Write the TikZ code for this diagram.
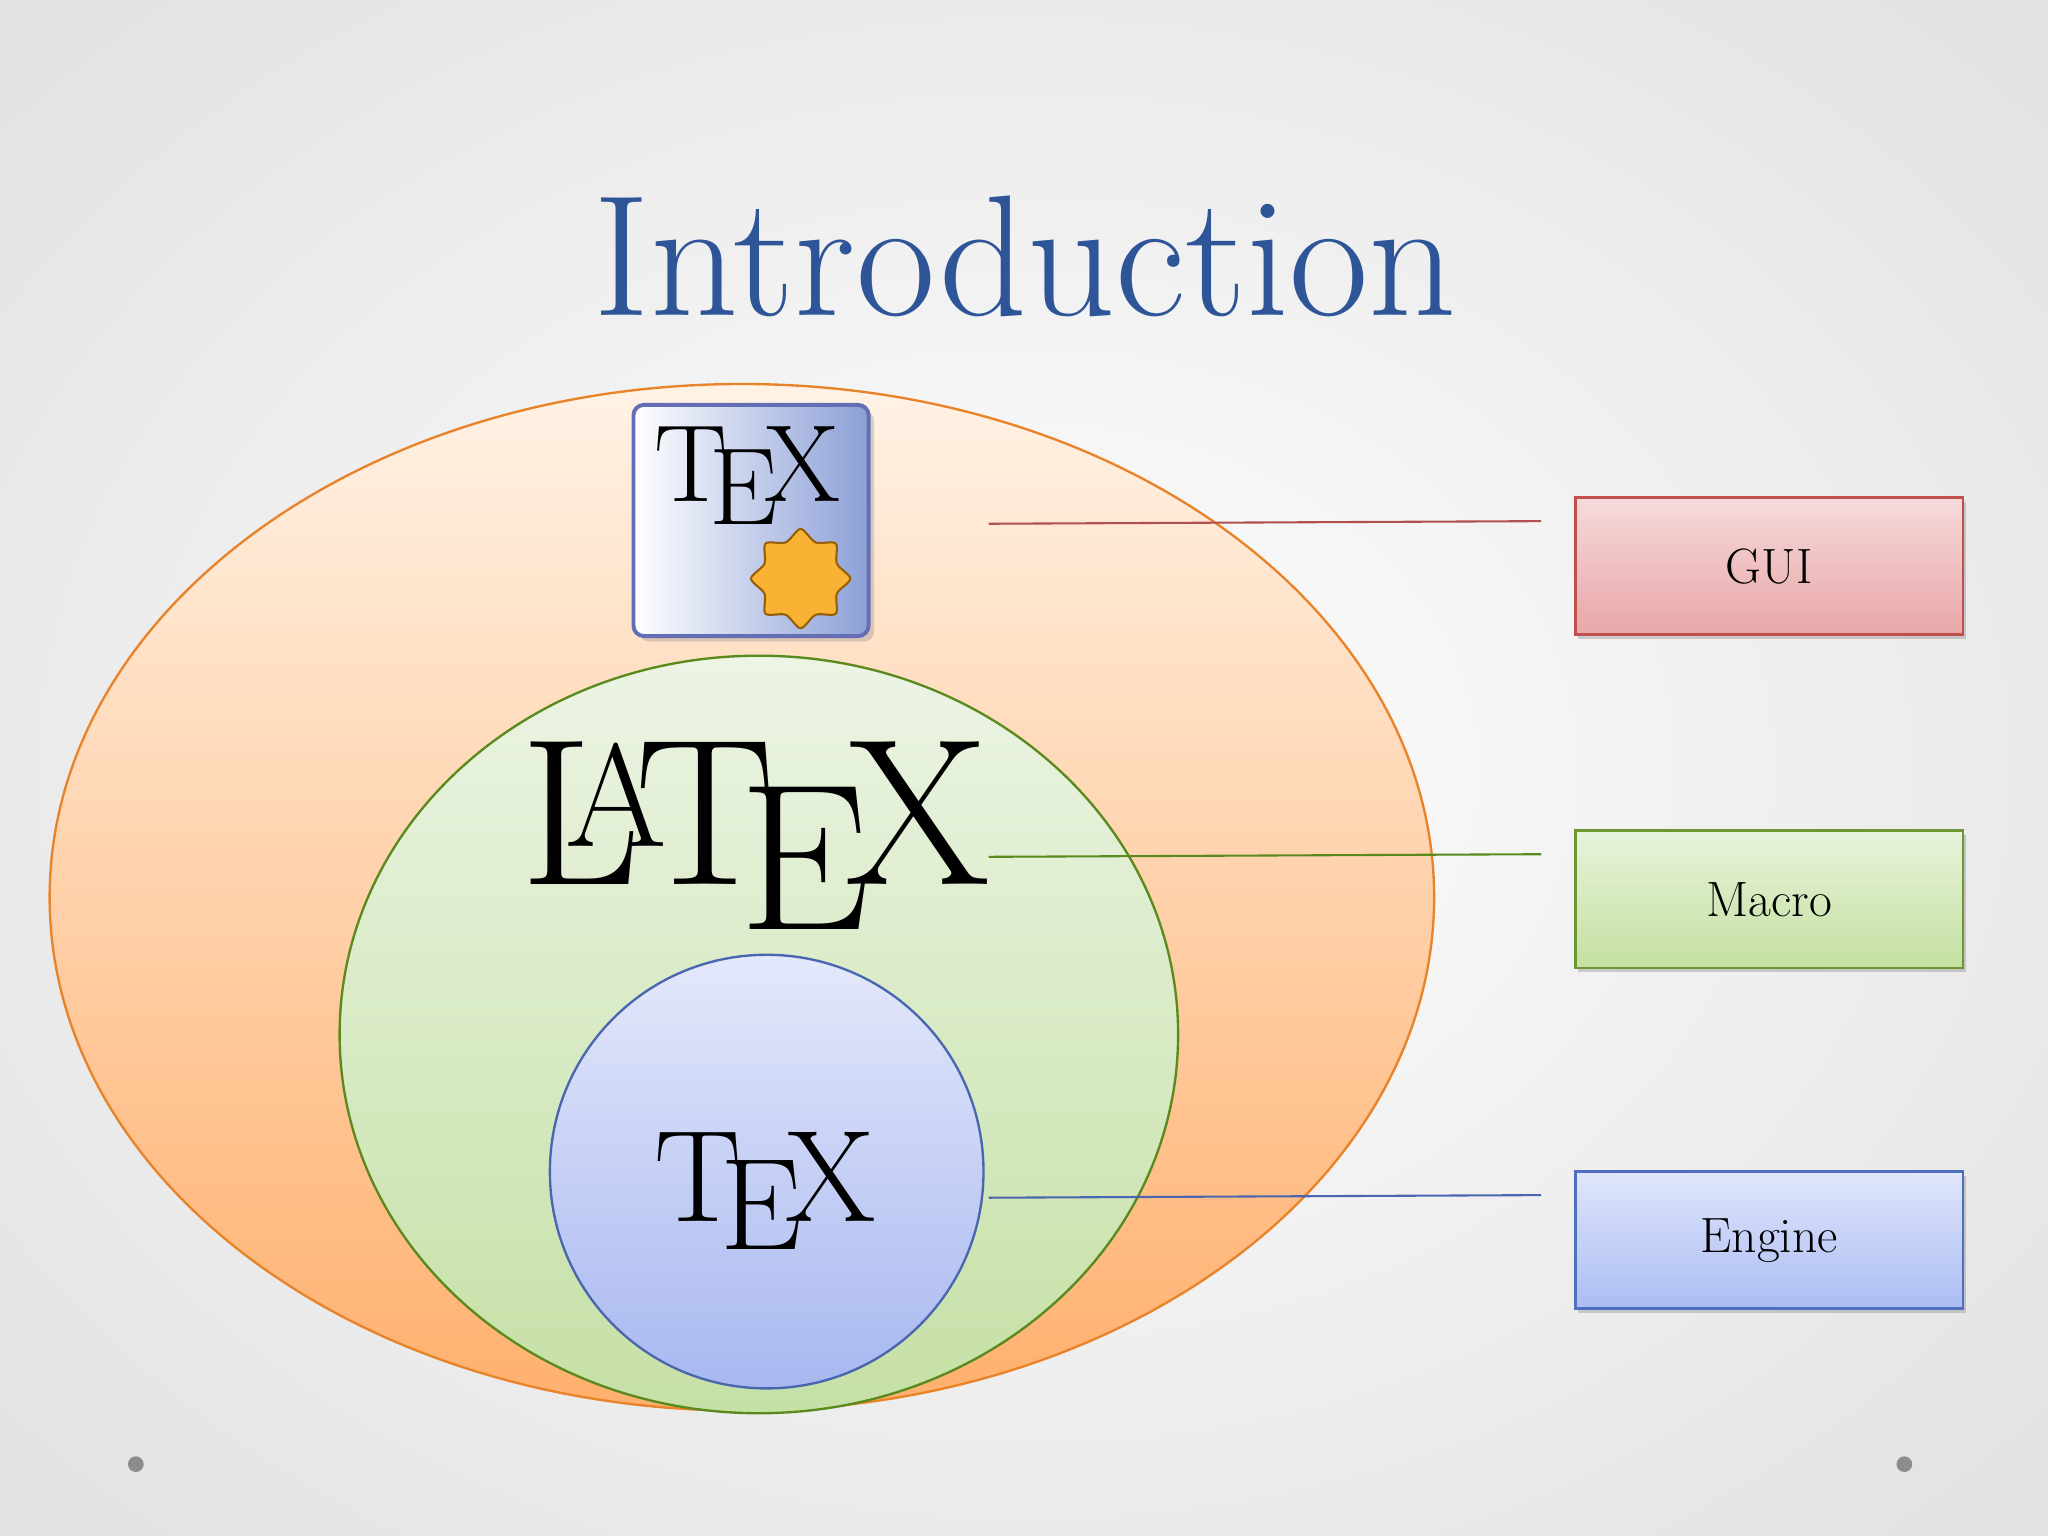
\documentclass[tikz,border=0pt]{standalone}
\usetikzlibrary{shadows}
\definecolor{titleblue}{HTML}{2E5597}
\tikzset{
  lbox/.style={draw, line width=1pt, minimum width=148.5pt, minimum height=52.5pt, anchor=north west, inner sep=0pt, drop shadow={shadow xshift=1pt, shadow yshift=-1.5pt, opacity=0.35}, font=\fontsize{19}{22}\selectfont},
  conn/.style={line width=0.8pt}
}
\begin{document}
\begin{tikzpicture}[x=0.5pt,y=-0.5pt]
\useasboundingbox (0,0) rectangle (1568,1176);
\shade[inner color=white, outer color=black!11] (-250,-200) rectangle (1818,1376);
% title
\node[text=titleblue, font=\fontsize{66}{72}\selectfont] (title) at (785,196) {Introduction};
% ellipses
\shade[top color=orange!10!white, bottom color=orange!55!white!95!red] (568,687) ellipse [x radius=530, y radius=393];
\draw[color={rgb,255:red,232;green,131;blue,42}, line width=0.9pt] (568,687) ellipse [x radius=530, y radius=393];
\shade[top color={rgb,255:red,236;green,244;blue,228}, bottom color={rgb,255:red,197;green,224;blue,165}] (581,792) ellipse [x radius=321, y radius=290];
\draw[color={rgb,255:red,90;green,138;blue,30}, line width=0.9pt] (581,792) ellipse [x radius=321, y radius=290];
\shade[top color={rgb,255:red,228;green,232;blue,251}, bottom color={rgb,255:red,168;green,184;blue,240}] (587,897) circle [radius=166];
\draw[color={rgb,255:red,74;green,102;blue,176}, line width=0.9pt] (587,897) circle [radius=166];
% icon
\shade[left color=white, right color={rgb,255:red,140;green,160;blue,215}, rounded corners=4pt, drop shadow={opacity=0.3}] (485,310) rectangle (665,487);
\draw[color={rgb,255:red,100;green,110;blue,180}, line width=1.5pt, rounded corners=4pt] (485,310) rectangle (665,487);
\node[font=\fontsize{42}{46}\selectfont] (icontex) at (572,364) {\TeX};
\filldraw[fill={rgb,255:red,249;green,178;blue,51}, draw={rgb,255:red,150;green,95;blue,10}, line width=0.8pt]
  plot[smooth cycle, samples=16, domain=0:337.5] ({613+ (mod(round(\x/22.5),2)==0 ? 38 : 30)*cos(\x)}, {443+ (mod(round(\x/22.5),2)==0 ? 38 : 30)*sin(\x)});
% logos
\node[font=\fontsize{80}{84}\selectfont] (latex) at (578,640) {\LaTeX};
\node[font=\fontsize{50}{55}\selectfont] (tex) at (586,912) {\TeX};
% boxes
\node[lbox, draw={rgb,255:red,192;green,80;blue,77}, top color={rgb,255:red,246;green,218;blue,218}, bottom color={rgb,255:red,232;green,166;blue,168}] (gui) at (1205,380) {GUI};
\node[lbox, draw={rgb,255:red,110;green,150;blue,50}, top color={rgb,255:red,232;green,243;blue,220}, bottom color={rgb,255:red,196;green,224;blue,160}] (macro) at (1205,635) {Macro};
\node[lbox, draw={rgb,255:red,80;green,110;blue,190}, top color={rgb,255:red,224;green,230;blue,252}, bottom color={rgb,255:red,170;green,188;blue,242}] (engine) at (1205,896) {Engine};
% connectors
\coordinate (g1) at (757,401); \coordinate (g2) at (1180,399);
\coordinate (m1) at (757,656); \coordinate (m2) at (1180,654);
\coordinate (e1) at (757,917); \coordinate (e2) at (1180,915);
\draw[conn, color={rgb,255:red,176;green,80;blue,79}] (g1) -- (g2);
\draw[conn, color={rgb,255:red,90;green,138;blue,30}] (m1) -- (m2);
\draw[conn, color={rgb,255:red,74;green,102;blue,176}] (e1) -- (e2);
% dots
\fill[black!45] (104,1121) circle [radius=6];
\fill[black!45] (1458,1121) circle [radius=6];
\end{tikzpicture}
\end{document}
